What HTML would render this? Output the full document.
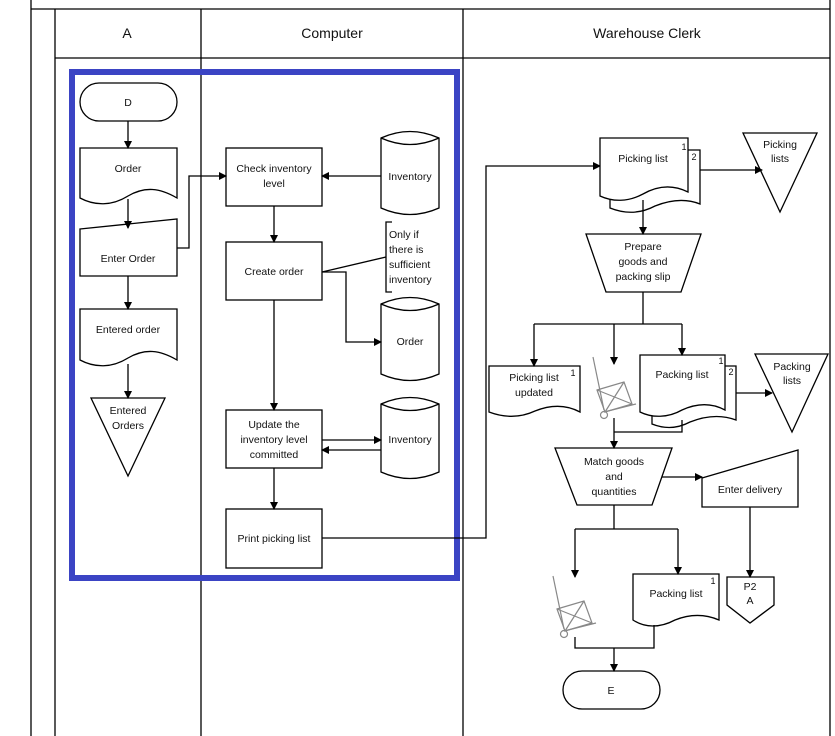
<!DOCTYPE html>
<html><head><meta charset="utf-8"><style>
html,body{margin:0;padding:0;background:#fff;}
svg{display:block;}
text{font-family:"Liberation Sans",sans-serif;font-size:10.5px;fill:#111;text-anchor:middle;}
.h{font-size:14px;}
</style></head><body>
<svg width="835" height="736" viewBox="0 0 835 736" xmlns="http://www.w3.org/2000/svg">
<defs>
<marker id="a" markerWidth="8" markerHeight="8" refX="7" refY="4" orient="auto" markerUnits="userSpaceOnUse">
<path d="M0,0 L8,4 L0,8 z" fill="#000"/></marker>
<g id="cart" stroke="#888" stroke-width="1.2" fill="none">
<line x1="0" y1="0" x2="11" y2="53"/>
<path d="M4,33 L31,25 L39,47 L12,55 Z"/>
<line x1="4" y1="33" x2="39" y2="47"/><line x1="31" y1="25" x2="12" y2="55"/>
<line x1="11" y1="55" x2="43" y2="47"/>
<circle cx="11" cy="58" r="3.5"/>
</g>
</defs>
<g stroke="#000" stroke-width="1.3" fill="none">
<line x1="31" y1="0" x2="31" y2="736"/>
<line x1="31" y1="9" x2="830" y2="9"/>
<line x1="830" y1="0" x2="830" y2="736"/>
<line x1="55" y1="9" x2="55" y2="736"/>
<line x1="55" y1="58" x2="830" y2="58"/>
<line x1="201" y1="9" x2="201" y2="736"/>
<line x1="463" y1="9" x2="463" y2="736"/>
</g>
<text class="h" x="127" y="38">A</text>
<text class="h" x="332" y="38">Computer</text>
<text class="h" x="647" y="38">Warehouse Clerk</text>

<rect x="72" y="72" width="385" height="506" fill="none" stroke="#3b44c4" stroke-width="6"/>

<g stroke="#000" stroke-width="1.3" fill="#fff">
<!-- D -->
<rect x="80" y="83" width="97" height="38" rx="19"/>
<!-- Order doc -->
<path d="M80,148 H177 V198 C160,188 145,186 128,196 C112,206 95,206 80,198 Z"/>
<!-- Enter Order -->
<path d="M80,229 L177,219 V276 H80 Z"/>
<!-- Entered order -->
<path d="M80,309 H177 V360 C160,350 145,348 128,358 C112,368 95,368 80,360 Z"/>
<!-- triangle -->
<path d="M91,398 H165 L128,476 Z"/>
<!-- computer boxes -->
<rect x="226" y="148" width="96" height="58"/>
<rect x="226" y="242" width="96" height="58"/>
<rect x="226" y="410" width="96" height="58"/>
<rect x="226" y="509" width="96" height="59"/>
<!-- cylinders -->
<path d="M381,138 Q410,125 439,138 V208 Q410,221 381,208 Z"/><path d="M381,138 Q410,151 439,138" fill="none"/>
<path d="M381,304 Q410,291 439,304 V374 Q410,387 381,374 Z"/><path d="M381,304 Q410,317 439,304" fill="none"/>
<path d="M381,404 Q410,391 439,404 V472 Q410,485 381,472 Z"/><path d="M381,404 Q410,417 439,404" fill="none"/>
<!-- annotation -->
<path d="M392,222 H386 V292 H392" fill="none"/>
<line x1="322" y1="272" x2="386" y2="257"/>
</g>
<g stroke="#000" stroke-width="1.3" fill="none">
<line x1="128" y1="121" x2="128" y2="148" marker-end="url(#a)"/>
<line x1="128" y1="199" x2="128" y2="228" marker-end="url(#a)"/>
<line x1="128" y1="276" x2="128" y2="309" marker-end="url(#a)"/>
<line x1="128" y1="364" x2="128" y2="398" marker-end="url(#a)"/>
<polyline points="177,248 189,248 189,176 226,176" marker-end="url(#a)"/>
<line x1="381" y1="176" x2="322" y2="176" marker-end="url(#a)"/>
<line x1="274" y1="206" x2="274" y2="242" marker-end="url(#a)"/>
<polyline points="322,272 346,272 346,342 381,342" marker-end="url(#a)"/>
<line x1="274" y1="300" x2="274" y2="410" marker-end="url(#a)"/>
<line x1="322" y1="440" x2="381" y2="440" marker-end="url(#a)"/>
<line x1="381" y1="450" x2="322" y2="450" marker-end="url(#a)"/>
<line x1="274" y1="468" x2="274" y2="509" marker-end="url(#a)"/>
<polyline points="322,538 486,538 486,166 600,166" marker-end="url(#a)"/>
</g>
<text x="128" y="106">D</text>
<text x="128" y="172">Order</text>
<text x="128" y="262">Enter Order</text>
<text x="128" y="333">Entered order</text>
<text x="128" y="414">Entered</text><text x="128" y="429">Orders</text>
<text x="274" y="172">Check inventory</text><text x="274" y="187">level</text>
<text x="410" y="180">Inventory</text>
<text x="274" y="275">Create order</text>
<g style="text-anchor:start"><text x="389" y="238" style="text-anchor:start">Only if</text><text x="389" y="253" style="text-anchor:start">there is</text><text x="389" y="268" style="text-anchor:start">sufficient</text><text x="389" y="283" style="text-anchor:start">inventory</text></g>
<text x="410" y="345">Order</text>
<text x="274" y="428">Update the</text><text x="274" y="443">inventory level</text><text x="274" y="458">committed</text>
<text x="410" y="443">Inventory</text>
<text x="274" y="542">Print picking list</text>

<!-- Warehouse -->
<g stroke="#000" stroke-width="1.3" fill="#fff">
<path d="M610,150 H700 V204 C685,198 670,200 655,206 C640,214 625,214 610,208 Z"/>
<path d="M600,138 H688 V192 C672,184 657,186 643,194 C628,202 613,202 600,196 Z"/>
<path d="M743,133 H817 L780,212 Z"/>
<path d="M586,234 H701 L681,292 H606 Z"/>
<path d="M489,366 H580 V412 C565,404 550,405 535,411 C520,418 505,418 489,412 Z"/>
<path d="M652,366 H736 V420 C720,414 705,416 690,422 C675,430 662,428 652,424 Z"/>
<path d="M640,355 H725 V410 C710,402 695,404 682,410 C668,418 652,418 640,412 Z"/>
<path d="M755,354 H828 L792,432 Z"/>
<path d="M555,448 H672 L652,505 H577 Z"/>
<path d="M702,478 L798,450 V507 H702 Z"/>
<path d="M727,577 H774 V605 L750,623 L727,605 Z"/>
<path d="M633,574 H719 V620 C705,614 690,614 675,620 C660,628 645,628 633,620 Z"/>
<rect x="563" y="671" width="97" height="38" rx="19"/>
</g>
<use href="#cart" x="593" y="357"/>
<use href="#cart" x="553" y="576"/>
<g stroke="#000" stroke-width="1.3" fill="none">
<line x1="700" y1="170" x2="762" y2="170" marker-end="url(#a)"/>
<line x1="643" y1="200" x2="643" y2="234" marker-end="url(#a)"/>
<line x1="643" y1="292" x2="643" y2="324"/>
<line x1="534" y1="324" x2="682" y2="324"/>
<line x1="534" y1="324" x2="534" y2="366" marker-end="url(#a)"/>
<line x1="614" y1="324" x2="614" y2="364" marker-end="url(#a)"/>
<line x1="682" y1="324" x2="682" y2="355" marker-end="url(#a)"/>
<line x1="736" y1="393" x2="772" y2="393" marker-end="url(#a)"/>
<polyline points="682,420 682,432 614,432"/>
<line x1="614" y1="418" x2="614" y2="448" marker-end="url(#a)"/>
<line x1="662" y1="477" x2="702" y2="477" marker-end="url(#a)"/>
<line x1="750" y1="507" x2="750" y2="577" marker-end="url(#a)"/>
<line x1="614" y1="505" x2="614" y2="529"/>
<line x1="575" y1="529" x2="678" y2="529"/>
<line x1="575" y1="529" x2="575" y2="577" marker-end="url(#a)"/>
<line x1="678" y1="529" x2="678" y2="574" marker-end="url(#a)"/>
<polyline points="575,637 575,648 654,648 654,625"/>
<line x1="614" y1="648" x2="614" y2="671" marker-end="url(#a)"/>
</g>
<text x="643" y="162">Picking list</text>
<text x="684" y="150" style="font-size:9px">1</text><text x="694" y="160" style="font-size:9px">2</text>
<text x="780" y="148">Picking</text><text x="780" y="162">lists</text>
<text x="643" y="250">Prepare</text><text x="643" y="265">goods and</text><text x="643" y="280">packing slip</text>
<text x="534" y="381">Picking list</text><text x="534" y="396">updated</text>
<text x="573" y="376" style="font-size:9px">1</text>
<text x="682" y="378">Packing list</text>
<text x="721" y="364" style="font-size:9px">1</text><text x="731" y="375" style="font-size:9px">2</text>
<text x="792" y="370">Packing</text><text x="792" y="384">lists</text>
<text x="614" y="465">Match goods</text><text x="614" y="480">and</text><text x="614" y="495">quantities</text>
<text x="750" y="493">Enter delivery</text>
<text x="750" y="590">P2</text><text x="750" y="604">A</text>
<text x="676" y="597">Packing list</text>
<text x="713" y="584" style="font-size:9px">1</text>
<text x="611" y="694">E</text>
</svg>
</body></html>
